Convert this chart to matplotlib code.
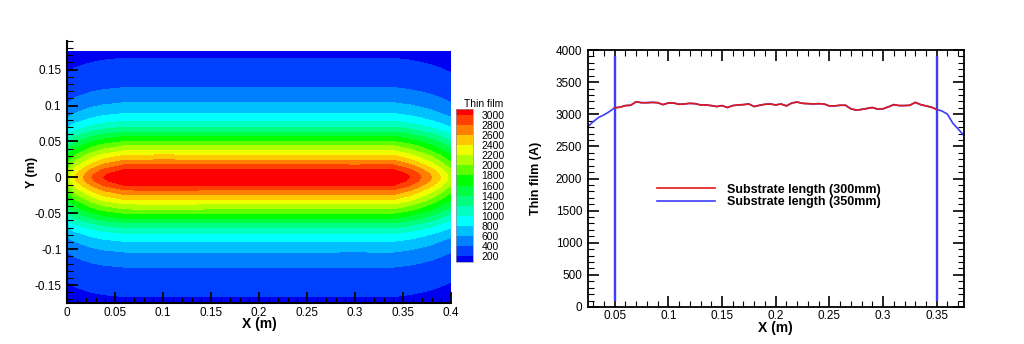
import numpy as np
import matplotlib
matplotlib.use('Agg')
import matplotlib.pyplot as plt
from matplotlib.colors import ListedColormap, BoundaryNorm
from matplotlib.ticker import MultipleLocator, FormatStrFormatter

plt.rcParams['font.family'] = ['Liberation Sans', 'DejaVu Sans']

# thickness along y=0 (x profile)
x_pts = [0.000, 0.003, 0.008, 0.017, 0.026, 0.038, 0.060, 0.100, 0.150, 0.200,
         0.250, 0.300, 0.340, 0.357, 0.369, 0.380, 0.389, 0.397, 0.400]
x_thick = [2100, 2200, 2400, 2600, 2800, 3000, 3200, 3210, 3200, 3200,
           3200, 3190, 3200, 3000, 2800, 2600, 2400, 2200, 2150]
# thickness against distance from centre line (y profile) at mid length
y_dist = [0.000, 0.005, 0.011, 0.0175, 0.024, 0.031, 0.037, 0.044, 0.050,
          0.057, 0.063, 0.070, 0.078, 0.089, 0.104, 0.125, 0.166, 0.175]
y_thick = [3200, 3150, 3000, 2800, 2600, 2400, 2200, 2000, 1800,
           1600, 1400, 1200, 1000, 800, 600, 400, 200, 160]

levels = [200, 400, 600, 800, 1000, 1200, 1400, 1600, 1800, 2000,
          2200, 2400, 2600, 2800, 3000]
band_colors = ['#0040ff', '#0080ff', '#00c0ff', '#00ffff', '#00ffc0', '#00ff80',
               '#00ff40', '#00ff00', '#60ff00', '#b0ff00', '#f0ff00', '#ffc800',
               '#ff8000', '#ff4000']
under_color = '#0000f0'
over_color = '#ff0000'

# line profiles (right panel)
x_300 = [0.050, 0.055, 0.060, 0.065, 0.070, 0.075, 0.080, 0.085, 0.090, 0.095,
         0.100, 0.105, 0.110, 0.115, 0.120, 0.125, 0.130, 0.135, 0.140, 0.145,
         0.150, 0.155, 0.160, 0.165, 0.170, 0.175, 0.180, 0.185, 0.190, 0.195,
         0.200, 0.205, 0.210, 0.215, 0.220, 0.225, 0.230, 0.235, 0.240, 0.245,
         0.250, 0.255, 0.260, 0.265, 0.270, 0.275, 0.280, 0.285, 0.290, 0.295,
         0.300, 0.305, 0.310, 0.315, 0.320, 0.325, 0.330, 0.335, 0.340, 0.345,
         0.350]
t_300 = [3100, 3110, 3135, 3140, 3195, 3180, 3180, 3185, 3180, 3150,
         3175, 3175, 3155, 3160, 3170, 3165, 3145, 3145, 3135, 3120,
         3135, 3105, 3135, 3145, 3150, 3160, 3120, 3140, 3155, 3160,
         3145, 3160, 3130, 3175, 3190, 3170, 3165, 3160, 3165, 3160,
         3130, 3130, 3140, 3140, 3085, 3065, 3075, 3090, 3105, 3080,
         3085, 3115, 3150, 3135, 3135, 3140, 3185, 3150, 3130, 3110,
         3075]
x_350_left = [0.025, 0.030, 0.035, 0.040, 0.045]
t_350_left = [2805, 2885, 2950, 2990, 3040]
x_350_right = [0.355, 0.360, 0.365, 0.370, 0.375]
t_350_right = [3050, 3000, 2860, 2770, 2675]
edge_x = [0.05, 0.35]
edge_lo = 100
edge_hi = 3900

fig = plt.figure(figsize=(10.24, 3.44), dpi=100)

# ---- contour map
ax = fig.add_axes([0.0654, 0.119, 0.375, 0.762])
yd = np.array(y_dist)
yy = np.concatenate([-yd[::-1], yd[1:]])
gy = np.array(y_thick, dtype=float)
gy = np.concatenate([gy[::-1], gy[1:]])
gx = np.array(x_thick, dtype=float)
field = gy[:, None] * gx[None, :] / 3200.0

cmap = ListedColormap(band_colors)
cmap.set_under(under_color)
cmap.set_over(over_color)
norm = BoundaryNorm(levels, cmap.N)
cs = ax.contourf(x_pts, yy, field, levels=levels, cmap=cmap, norm=norm, extend='both')

ax.set_xlim(0, 0.4)
ax.set_ylim(-0.175, 0.19)
ax.spines['top'].set_visible(False)
ax.spines['right'].set_visible(False)
ax.spines['left'].set_linewidth(1.5)
ax.spines['bottom'].set_linewidth(1.5)
ax.xaxis.set_major_locator(MultipleLocator(0.05))
ax.xaxis.set_minor_locator(MultipleLocator(0.01))
ax.yaxis.set_minor_locator(MultipleLocator(0.01))
ax.xaxis.set_major_formatter(FormatStrFormatter('%g'))
ax.yaxis.set_major_formatter(FormatStrFormatter('%g'))
ax.set_yticks([-0.15, -0.1, -0.05, 0, 0.05, 0.1, 0.15])
ax.tick_params(which='both', direction='in', top=False, right=False, labelsize=8.5)
ax.tick_params(axis='y', pad=4)
ax.tick_params(axis='x', pad=2.5)
ax.tick_params(which='major', length=8, width=1.3)
ax.tick_params(which='minor', length=4, width=0.8)
ax.set_xlabel('X (m)', fontsize=10, fontweight='bold', labelpad=-1)
ax.set_ylabel('Y (m)', fontsize=9, fontweight='bold')
ax.yaxis.set_label_coords(-0.075, 0.5)

cax = fig.add_axes([0.4453, 0.238, 0.0166, 0.445])
cb = fig.colorbar(cs, cax=cax, extendrect=True, extendfrac=0.04)
cb.set_ticks(levels)
cb.ax.tick_params(length=0, labelsize=7.5, pad=6)
cb.outline.set_linewidth(0.5)
cb.outline.set_edgecolor('#9090a0')
cax.text(0.5, 1.04, 'Thin film', transform=cax.transAxes, fontsize=7.5,
         ha='left', va='bottom')

# ---- line plot
ax2 = fig.add_axes([0.574, 0.1076, 0.367, 0.747])
x_350 = x_350_left + x_300 + x_350_right
t_350 = t_350_left + t_300 + t_350_right
ax2.plot(x_350, t_350, color='#3c3cff', lw=1.2, label='Substrate length (350mm)')
ax2.vlines(edge_x, edge_lo, edge_hi, color='#3c3cff', lw=1.7)
ax2.plot(x_300, t_300, color='#e01818', lw=1.2, label='Substrate length (300mm)')
ax2.set_xlim(0.025, 0.375)
ax2.set_ylim(0, 4000)
for s in ax2.spines.values():
    s.set_linewidth(1.3)
ax2.xaxis.set_major_locator(MultipleLocator(0.05))
ax2.xaxis.set_minor_locator(MultipleLocator(0.01))
ax2.yaxis.set_major_locator(MultipleLocator(500))
ax2.yaxis.set_minor_locator(MultipleLocator(100))
ax2.xaxis.set_major_formatter(FormatStrFormatter('%g'))
ax2.tick_params(which='both', direction='in', top=True, right=True, labelsize=8.5)
ax2.tick_params(axis='y', pad=4)
ax2.tick_params(axis='x', pad=2.5)
ax2.tick_params(which='major', length=8, width=1.2)
ax2.tick_params(which='minor', length=4, width=0.8)
ax2.set_xlabel('X (m)', fontsize=10, fontweight='bold', labelpad=-1)
ax2.set_ylabel('Thin film (A)', fontsize=9, fontweight='bold')
ax2.yaxis.set_label_coords(-0.122, 0.5)
h, l = ax2.get_legend_handles_labels()
leg = ax2.legend([h[1], h[0]], [l[1], l[0]], loc='upper left', bbox_to_anchor=(0.183, 0.48),
                 frameon=False, borderaxespad=0, borderpad=0, handlelength=4.7,
                 handletextpad=0.9, labelspacing=0.05,
                 prop={'size': 9, 'weight': 'bold'})

fig.savefig('out.png', dpi=100)
